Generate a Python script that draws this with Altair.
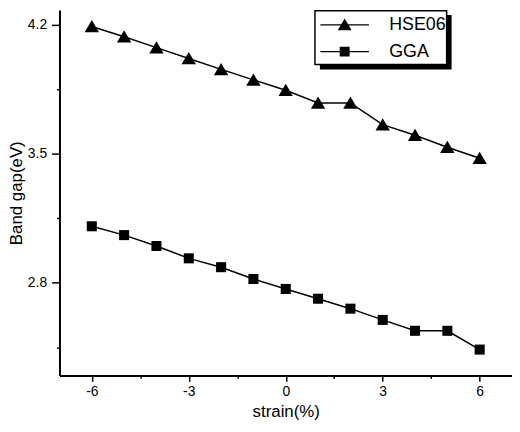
import pandas as pd
import altair as alt

# values
strain = [-6, -5, -4, -3, -2, -1, 0, 1, 2, 3, 4, 5, 6]
hse06 = [4.190, 4.134, 4.075, 4.016, 3.957, 3.900, 3.844, 3.775, 3.775, 3.657, 3.600, 3.535, 3.475]
gga = [3.106, 3.058, 2.999, 2.932, 2.884, 2.820, 2.766, 2.713, 2.659, 2.598, 2.539, 2.539, 2.437]
methods = ['HSE06', 'GGA']

x_ticks = [-6, -4.5, -3, -1.5, 0, 1.5, 3, 4.5, 6]
y_ticks = [2.45, 2.8, 3.15, 3.5, 3.85, 4.2]
y_labels = [2.8, 3.5, 4.2]

df = pd.DataFrame({
    'strain': strain * 2,
    'gap': hse06 + gga,
    'method': ['HSE06'] * len(strain) + ['GGA'] * len(strain),
})

# marker paths (plot) and line+marker paths (legend keys, line drawn as a thin bar)
TRI = 'M0,-0.9L1,0.8L-1,0.8Z'
SQR = 'M-0.7,-0.7H0.7V0.7H-0.7Z'
BAR = 'M-2.45,-0.07H2.45V0.07H-2.45Z'
TRI_KEY = BAR + 'M0,-0.65L0.7,0.55L-0.7,0.55Z'
SQR_KEY = BAR + 'M-0.5,-0.5H0.5V0.5H-0.5Z'

FONT = 'Liberation Sans'
# legend frame, relative to the plot's top-left corner
BOX_X, BOX_Y, BOX_W, BOX_H = 258, 0, 133, 55

axis_style = dict(
    grid=False, domainColor='black', domainWidth=2, tickColor='black', tickWidth=1.5,
    labelFont=FONT, labelFontSize=14, labelColor='black',
    titleFont=FONT, titleFontSize=17, titleFontWeight='normal', titleColor='black',
)

x = alt.X('strain:Q', scale=alt.Scale(domain=[-7, 7], nice=False, zero=False),
          axis=alt.Axis(title='strain(%)', values=x_ticks,
                        labelExpr="datum.value % 3 == 0 ? '' + datum.value : ''",
                        tickSize={'condition': {'test': 'datum.value % 3 == 0', 'value': 6}, 'value': 3},
                        labelPadding=3, titlePadding=6, **axis_style))
y = alt.Y('gap:Q', scale=alt.Scale(domain=[2.297, 4.279], nice=False, zero=False),
          axis=alt.Axis(title='Band gap(eV)', values=y_ticks,
                        labelExpr="indexof(%s, datum.value) >= 0 ? format(datum.value, '.1f') : ''" % y_labels,
                        tickSize={'condition': {'test': 'indexof(%s, datum.value) >= 0' % y_labels, 'value': 8}, 'value': 3},
                        labelPadding=5, titlePadding=2, **axis_style))

line = alt.Chart(df).mark_line(color='black', strokeWidth=1.5).encode(
    x=x, y=y, detail='method:N'
)

points = alt.Chart(df).mark_point(filled=True, size=210, opacity=1, color='black').encode(
    x=x, y=y,
    shape=alt.Shape('method:N', scale=alt.Scale(domain=methods, range=[TRI, SQR]), legend=None),
)

# legend entries only (frame drawn below): keys show line + marker
key = alt.Chart(df).transform_filter('false').mark_point(
    filled=True, color='black', size=400, opacity=1
).encode(
    shape=alt.Shape('method:N', scale=alt.Scale(domain=methods, range=[TRI_KEY, SQR_KEY]),
                    legend=alt.Legend(
                        title=None, orient='none', legendX=BOX_X + 5, legendY=BOX_Y + 4,
                        direction='vertical', padding=0,
                        labelFont=FONT, labelFontSize=18, labelColor='black',
                        symbolSize=400, symbolOffset=14, labelOffset=34, rowPadding=7,
                        symbolFillColor='black', symbolOpacity=1)),
)

frame_df = pd.DataFrame({'k': [0]})
shadow = alt.Chart(frame_df).mark_rect(color='black').encode(
    x=alt.value(BOX_X + 5), x2=alt.value(BOX_X + BOX_W + 5),
    y=alt.value(BOX_Y + 5), y2=alt.value(BOX_Y + BOX_H + 5),
)
frame = alt.Chart(frame_df).mark_rect(fill='white', stroke='black', strokeWidth=1.5).encode(
    x=alt.value(BOX_X), x2=alt.value(BOX_X + BOX_W),
    y=alt.value(BOX_Y + 0.75), y2=alt.value(BOX_Y + BOX_H),
)

chart = alt.layer(shadow, frame, line, points, key).resolve_scale(shape='independent').properties(
    width=457, height=369,
    autosize=alt.AutoSizeParams(type='none'),
    padding={'left': 52, 'top': 0, 'right': 0, 'bottom': 44},
).configure_view(stroke=None)

chart.save("out.html", embed_options={"renderer": "svg", "actions": False})
